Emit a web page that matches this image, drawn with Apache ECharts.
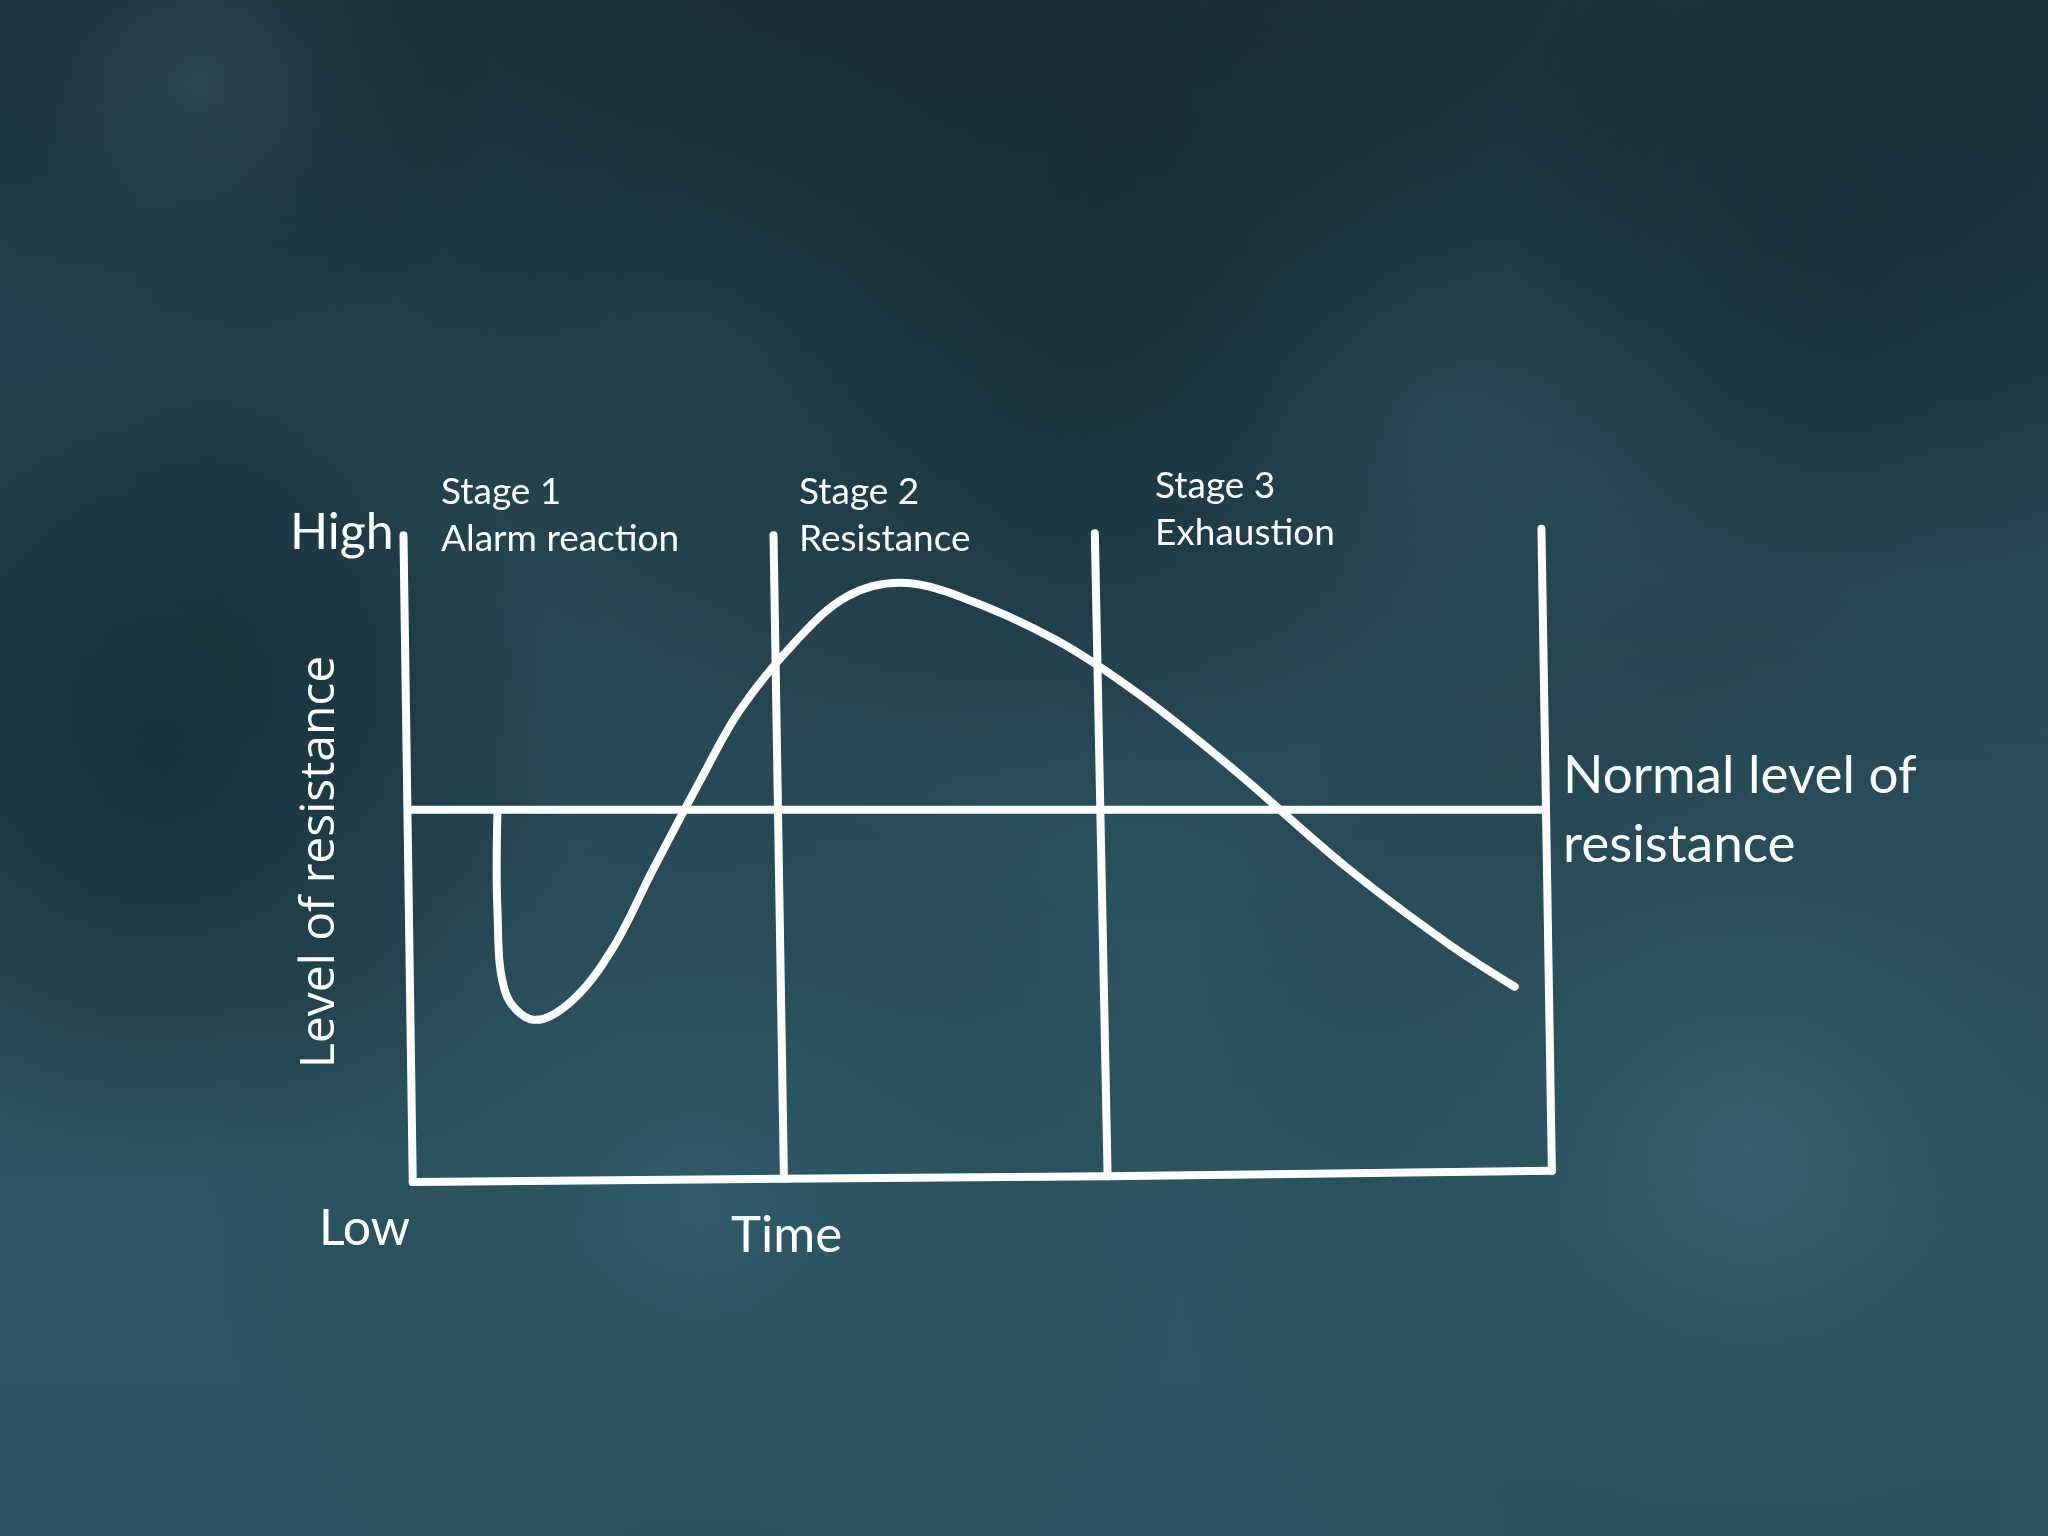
<!DOCTYPE html>
<html lang="en">
<head>
<meta charset="utf-8">
<title>Level of resistance</title>
<script src="https://cdn.jsdelivr.net/npm/echarts@6/dist/echarts.min.js"></script>
<style>
  html, body { margin: 0; padding: 0; background: #243f4a; }
  #chart { width: 2048px; height: 1536px; }
</style>
</head>
<body>
<div id="chart"></div>
<script>
// time runs 0..100 left to right, resistance 0 (low) .. 100 (high)
var curveTime  = [8.4, 8.4, 9.1, 11.5, 14.9, 18.4, 21.8, 25.9, 29.3, 34.2, 38.5, 43.1, 48.3, 56.6, 63.8, 71.6, 81.6, 90.3, 96.1];
var curveLevel = [57.4, 42.4, 29.9, 25.8, 28.8, 36.8, 48.5, 62.1, 72.7, 83.3, 89.9, 92.0, 89.9, 83.3, 75.0, 64.1, 48.9, 37.4, 30.8];

var normalLevel = 57.6;
var normalTime  = [0.8, 98.4];

// hand drawn frame: each line as time / level pairs
var leftAxisTime  = [0.3, 1.1],  leftAxisLevel  = [99.2, 1.2];
var bottomTime    = [1.1, 33.1, 61.0, 99.3], bottomLevel = [1.2, 1.7, 2.1, 2.9];
var stage2Time    = [32.2, 33.1], stage2Level    = [99.2, 1.7];
var stage3Time    = [59.9, 61.0], stage3Level    = [99.5, 2.1];
var endTime       = [98.4, 99.3], endLevel       = [100.2, 2.9];

var stageTitles = ['Stage 1', 'Stage 2', 'Stage 3'];
var stageNames  = ['Alarm reaction', 'Resistance', 'Exhaustion'];

function pairs(xs, ys) {
  return xs.map(function (x, i) { return [x, ys[i]]; });
}

function strokeSeries(data, width) {
  return {
    type: 'line',
    data: data,
    symbol: 'none',
    clip: false,
    silent: true,
    animation: false,
    lineStyle: { color: '#ffffff', width: width, cap: 'round', join: 'round' }
  };
}

// the resistance curve: one smooth path through all points, placed by the axes
var curveData = pairs(curveTime, curveLevel);
var curveSeries = {
  type: 'custom',
  coordinateSystem: 'cartesian2d',
  data: curveData,
  silent: true,
  animation: false,
  clip: false,
  renderItem: function (params, api) {
    if (params.dataIndex !== 0) return null;
    var pts = curveData.map(function (d) { return api.coord(d); });
    return {
      type: 'polyline',
      shape: { points: pts, smooth: 0.35 },
      style: { stroke: '#ffffff', lineWidth: 8, fill: null, lineCap: 'round', lineJoin: 'round' }
    };
  }
};

function txt(str, x, y, font, rot) {
  return {
    type: 'text', x: x, y: y, z: 100, rotation: rot || 0,
    style: {
      text: str, fill: '#ffffff', font: font,
      textAlign: 'left', textVerticalAlign: 'middle',
      align: 'left', verticalAlign: 'middle'
    }
  };
}

function blob(cx, cy, r, color) {
  return {
    type: 'circle', z: -5, silent: true,
    shape: { cx: cx, cy: cy, r: r },
    style: {
      fill: {
        type: 'radial', x: 0.5, y: 0.5, r: 0.5,
        colorStops: [{ offset: 0, color: color }, { offset: 1, color: 'rgba(0,0,0,0)' }]
      }
    }
  };
}

var chart = echarts.init(document.getElementById('chart'));

var smallFont = '37px Lato';
var bigFont = '50px Lato';

chart.setOption({
  backgroundColor: {
    type: 'linear', x: 0, y: 0, x2: 0, y2: 1,
    colorStops: [
      { offset: 0, color: '#1e3844' },
      { offset: 0.22, color: '#21414e' },
      { offset: 0.5, color: '#284e5b' },
      { offset: 0.8, color: '#2c5765' },
      { offset: 1, color: '#2c5563' }
    ]
  },
  grid: { left: 400, width: 1160, top: 530, height: 660 },
  xAxis: { type: 'value', min: 0, max: 100, show: false },
  yAxis: { type: 'value', min: 0, max: 100, show: false },
  series: [
    strokeSeries(pairs(leftAxisTime, leftAxisLevel), 8),
    strokeSeries(pairs(bottomTime, bottomLevel), 8),
    strokeSeries(pairs(stage2Time, stage2Level), 8),
    strokeSeries(pairs(stage3Time, stage3Level), 8),
    strokeSeries(pairs(endTime, endLevel), 8),
    strokeSeries(pairs(normalTime, [normalLevel, normalLevel]), 8),
    curveSeries
  ],
  graphic: [
    blob(160, 760, 420, 'rgba(12,30,38,0.55)'),
    blob(1000, 120, 700, 'rgba(14,28,34,0.40)'),
    blob(1750, 1150, 600, 'rgba(70,125,135,0.30)'),
    blob(700, 1200, 500, 'rgba(60,110,122,0.25)'),
    blob(1450, 420, 500, 'rgba(60,110,125,0.22)'),
    blob(700, 380, 600, 'rgba(55,100,115,0.18)'),
    blob(1900, 200, 400, 'rgba(14,28,36,0.35)'),
    blob(200, 80, 300, 'rgba(70,95,105,0.30)'),
    txt(stageTitles[0], 441, 492, smallFont),
    txt(stageNames[0], 441, 539, smallFont),
    txt(stageTitles[1], 799, 492, smallFont),
    txt(stageNames[1], 799, 539, smallFont),
    txt(stageTitles[2], 1155, 486, smallFont),
    txt(stageNames[2], 1155, 533, smallFont),
    txt('High', 290, 533, bigFont),
    txt('Low', 319, 1229, bigFont),
    txt('Time', 731, 1236, '51px Lato'),
    txt('Normal level of', 1563, 776, '53px Lato'),
    txt('resistance', 1563, 845, '53px Lato'),
    {
      type: 'text', x: 320, y: 862, z: 100, rotation: Math.PI / 2,
      style: {
        text: 'Level of resistance', fill: '#ffffff', font: '48px "Open Sans"',
        textAlign: 'center', textVerticalAlign: 'middle',
        align: 'center', verticalAlign: 'middle'
      }
    }
  ]
});
</script>
</body>
</html>
